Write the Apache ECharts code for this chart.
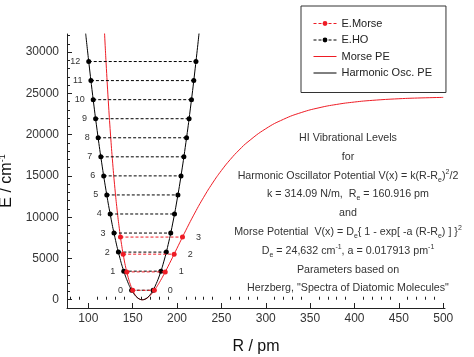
<!DOCTYPE html>
<html>
<head>
<meta charset="utf-8">
<script src="https://cdn.jsdelivr.net/npm/echarts@6/dist/echarts.min.js"></script>
<style>
html,body{margin:0;padding:0;background:#fff;}
#chart{width:474px;height:357px;}
</style>
</head>
<body>
<div id="chart"></div>
<script>
// ---- Data ----
const xMajorTicks = [100, 150, 200, 250, 300, 350, 400, 450, 500];
const xMinorTicks = [80, 90, 110, 120, 130, 140, 160, 170, 180, 190, 210, 220, 230, 240, 260, 270, 280, 290,
  310, 320, 330, 340, 360, 370, 380, 390, 410, 420, 430, 440, 460, 470, 480, 490];
const yMajorTicks = [0, 5000, 10000, 15000, 20000, 25000, 30000];
const yMinorTicks = [-1000, 1000, 2000, 3000, 4000, 6000, 7000, 8000, 9000, 11000, 12000, 13000, 14000,
  16000, 17000, 18000, 19000, 21000, 22000, 23000, 24000, 26000, 27000, 28000, 29000, 31000, 32000];

// Harmonic oscillator levels (cm^-1) and turning points (pm)
const hoLevelE  = [1154.5, 3463.5, 5772.5, 8081.5, 10390.5, 12699.5, 15008.5, 17317.5, 19626.5, 21935.5, 24244.5, 26553.5, 28862.5];
const hoLeftR   = [148.83, 139.99, 133.90, 128.94, 124.66, 120.84, 117.35, 114.11, 111.09, 108.24, 105.54, 102.96, 100.50];
const hoRightR  = [173.00, 181.85, 187.94, 192.89, 197.17, 200.99, 204.49, 207.72, 210.74, 213.59, 216.29, 218.87, 221.34];

// Morse levels (cm^-1) and turning points (pm)
const morseLevelE = [1145, 3374, 5524, 7595];
const morseLeftR  = [150.02, 143.34, 139.27, 136.26];
const morseRightR = [174.47, 186.72, 196.74, 206.15];

// Potential curves
const hoCurveR = [97, 100, 105, 110, 115, 120, 125, 130, 135, 140, 145, 147.5, 150, 152.5, 155, 157.5, 160, 161, 162.5,
  165, 167.5, 170, 172.5, 175, 180, 185, 190, 195, 200, 205, 210, 215, 220, 225];
const hoCurveE = [32298, 29337, 24719, 20495, 16668, 13235, 10198, 7556, 5310, 3459, 2003, 1423, 942, 560, 277, 92, 7, 0, 20,
  132, 343, 652, 1061, 1568, 2879, 4586, 6687, 9184, 12077, 15364, 19047, 23125, 27599, 32468];

const morseCurveR = [118, 119, 120, 122.5, 125, 127.5, 130, 132.5, 135, 137.5, 140, 142.5, 145, 147.5, 150, 152.5, 155, 157.5,
  160, 161, 162.5, 165, 167.5, 170, 172.5, 175, 177.5, 180, 185, 190, 200, 210, 220, 230, 240, 250, 260, 270, 280,
  300, 320, 340, 360, 380, 400, 420, 450, 475, 500];
const morseCurveE = [32975, 30832, 28795, 24143, 20079, 16544, 13483, 10849, 8597, 6689, 5088, 3762, 2681, 1818, 1149, 652, 308, 98,
  7, 0, 19, 123, 305, 556, 865, 1225, 1627, 2065, 3025, 4061, 6243, 8427, 10503, 12413, 14133, 15657, 16990, 18146, 19142,
  20723, 21865, 22681, 23260, 23669, 23957, 24159, 24355, 24455, 24519];

const noteLines = [
  'HI Vibrational Levels',
  'for',
  'Harmonic Oscillator Potential V(x) = k(R-R{sub|e}){sup|2}/2',
  'k = 314.09 N/m,  R{sub|e} = 160.916 pm',
  'and',
  'Morse Potential  V(x) = D{sub|e}{ 1 - exp[ -a (R-R{sub|e}) ] }{sup|2}',
  'D{sub|e} = 24,632 cm{sup|-1}, a = 0.017913 pm{sup|-1}',
  'Parameters based on',
  'Herzberg, "Spectra of Diatomic Molecules"'
];

// ---- Styling ----
const FONT = '"Liberation Sans", Arial, sans-serif';
const RED = '#ee1c25';
const BLACK = '#000';
const AXIS = '#222';

const zip = (a, b) => a.map((v, i) => [v, b[i]]);

const series = [];
series.push({
  name: 'Morse PE', type: 'line', data: zip(morseCurveR, morseCurveE),
  showSymbol: false, symbol: 'none', smooth: true, clip: true,
  lineStyle: { color: RED, width: 1 }, itemStyle: { color: RED }, z: 2
});
series.push({
  name: 'Harmonic Osc. PE', type: 'line', data: zip(hoCurveR, hoCurveE),
  showSymbol: false, symbol: 'none', smooth: true, clip: true,
  lineStyle: { color: BLACK, width: 1 }, itemStyle: { color: BLACK }, z: 2
});
hoLevelE.forEach((E, i) => {
  series.push({
    name: 'E.HO', type: 'line', symbol: 'circle', symbolSize: 5, showSymbol: true,
    data: [
      { value: [hoLeftR[i], E], label: { show: true, position: 'left', distance: 6, formatter: String(i) } },
      { value: [hoRightR[i], E] }
    ],
    lineStyle: { color: BLACK, width: 1, type: [3, 2] },
    itemStyle: { color: BLACK },
    label: { fontSize: 9, color: '#333', fontFamily: FONT },
    z: 3
  });
});
morseLevelE.forEach((E, i) => {
  series.push({
    name: 'E.Morse', type: 'line', symbol: 'circle', symbolSize: 5, showSymbol: true,
    data: [
      { value: [morseLeftR[i], E] },
      { value: [morseRightR[i], E], label: { show: true, position: 'right', distance: 11, formatter: String(i) } }
    ],
    lineStyle: { color: RED, width: 1, type: [3, 2] },
    itemStyle: { color: RED },
    label: { fontSize: 9, color: '#333', fontFamily: FONT },
    z: 4
  });
});

const richStyles = {
  sub: { fontSize: 7, verticalAlign: 'bottom', fontFamily: FONT, fill: '#333', lineHeight: 15 },
  sup: { fontSize: 7, verticalAlign: 'top', fontFamily: FONT, fill: '#333', lineHeight: 15 }
};

const graphic = noteLines.map((t, i) => ({
  type: 'text',
  x: 348,
  y: 138 + i * 18.8,
  silent: true,
  style: {
    text: t,
    align: 'center',
    verticalAlign: 'middle',
    fontSize: 10.7,
    fontFamily: FONT,
    fill: '#333',
    lineHeight: 15,
    rich: richStyles
  }
}));

const chart = echarts.init(document.getElementById('chart'), null, { renderer: 'canvas' });
chart.setOption({
  animation: false,
  backgroundColor: '#fff',
  grid: { left: 67, top: 34, width: 378, height: 274, containLabel: false, outerBoundsMode: 'none' },
  legend: {
    orient: 'vertical', left: 301, top: 6,
    padding: [12, 14, 14, 12], itemGap: 5.5, itemWidth: 23, itemHeight: 6,
    borderColor: '#333', borderWidth: 1, borderRadius: 0,
    textStyle: { fontSize: 11, color: '#222', fontFamily: FONT },
    lineStyle: { width: 1 },
    data: [
      { name: 'E.Morse' },
      { name: 'E.HO' },
      { name: 'Morse PE', itemStyle: { opacity: 0 } },
      { name: 'Harmonic Osc. PE', itemStyle: { opacity: 0 } }
    ]
  },
  xAxis: [{
    type: 'value', min: 76, max: 502,
    name: 'R / pm', nameLocation: 'middle', nameGap: 31,
    nameTextStyle: { fontSize: 16, color: '#111', fontFamily: FONT },
    axisLine: { show: true, onZero: false, lineStyle: { color: AXIS, width: 1 } },
    axisTick: { show: true, inside: true, length: 5, customValues: xMajorTicks, lineStyle: { color: AXIS } },
    axisLabel: { show: true, customValues: xMajorTicks, margin: 5, fontSize: 12, color: '#333', fontFamily: FONT,
      formatter: v => String(v) },
    splitLine: { show: false }
  }, {
    type: 'value', min: 76, max: 502, position: 'bottom',
    axisLine: { show: false },
    axisTick: { show: true, inside: true, length: 3, customValues: xMinorTicks, lineStyle: { color: AXIS } },
    axisLabel: { show: false },
    splitLine: { show: false }
  }],
  yAxis: [{
    type: 'value', min: -1000, max: 32200,
    name: 'E / cm{sup|-1}', nameLocation: 'middle', nameGap: 45, nameRotate: 90,
    nameTextStyle: { fontSize: 16, color: '#111', fontFamily: FONT, padding: [0, 20, 0, 0],
      rich: { sup: { fontSize: 9, verticalAlign: 'top', color: '#111', fontFamily: FONT, lineHeight: 18 } } },
    axisLine: { show: true, onZero: false, lineStyle: { color: AXIS, width: 1 } },
    axisTick: { show: true, inside: true, length: 5, customValues: yMajorTicks, lineStyle: { color: AXIS } },
    axisLabel: { show: true, customValues: yMajorTicks, margin: 8, fontSize: 12, color: '#333', fontFamily: FONT,
      formatter: v => String(v) },
    splitLine: { show: false }
  }, {
    type: 'value', min: -1000, max: 32200, position: 'left',
    axisLine: { show: false },
    axisTick: { show: true, inside: true, length: 3, customValues: yMinorTicks, lineStyle: { color: AXIS } },
    axisLabel: { show: false },
    splitLine: { show: false }
  }],
  graphic: graphic,
  series: series
});
</script>
</body>
</html>
